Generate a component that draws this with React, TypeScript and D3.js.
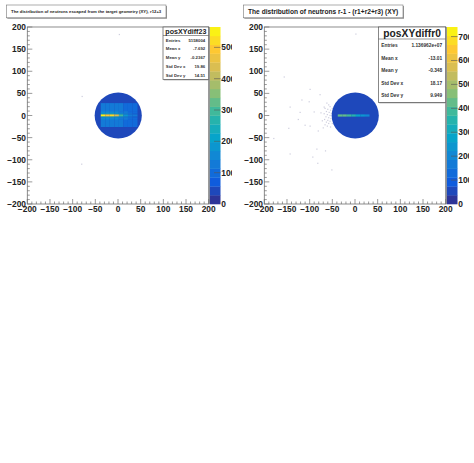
import React, { useEffect, useRef } from 'react';
import * as d3 from 'd3';

// ROOT kBird palette stops
const birdStops = ['#352a87', '#0f5cdd', '#1481d6', '#06a4ca', '#2eb7a4', '#87bf77', '#d1bb59', '#fec832', '#f9fb0e'];
const nBands = 20;

const axisTicks = d3.range(-200, 201, 50);
const minorTicks = d3.range(-200, 201, 10);

// left histogram
const leftTitle = 'The distribution of neutrons escaped from the target geometry (XY), r12+3';
const leftName = 'posXYdiff23';
const leftStats = [
  ['Entries', '5158004'],
  ['Mean x', '-7.692'],
  ['Mean y', '-0.2367'],
  ['Std Dev x', '19.86'],
  ['Std Dev y', '14.51'],
];
const leftPaletteMax = 565;
const leftPaletteTicks = [0, 100, 200, 300, 400, 500];
const leftDiskValue = 40;
const leftXEdges = [-38, -28, -18, -8, 2, 12, 22, 32, 43];
const leftYEdges = [28, 10, 5, 2.5, -2.5, -5, -10, -26];
const leftCells = [
  [125, 130, 130, 125, 120, 112, 105, 100],
  [150, 165, 165, 155, 140, 125, 112, 105],
  [215, 250, 245, 215, 175, 145, 122, 108],
  [540, 500, 520, 430, 290, 190, 140, 115],
  [215, 250, 245, 215, 175, 145, 122, 108],
  [150, 165, 165, 155, 140, 125, 112, 105],
  [125, 130, 130, 125, 120, 112, 105, 100],
];
const leftStrayPoints = [[3, 183], [-79, 43], [-80, -110]];

// right histogram
const rightTitle = 'The distribution of neutrons r-1 - (r1+r2+r3) (XY)';
const rightName = 'posXYdiffr0';
const rightStats = [
  ['Entries', '1.136962e+07'],
  ['Mean x', '-13.01'],
  ['Mean y', '-0.348'],
  ['Std Dev x', '18.17'],
  ['Std Dev y', '9.949'],
];
const rightPaletteMax = 740;
const rightPaletteTicks = [0, 100, 200, 300, 400, 500, 600, 700];
const rightDiskValue = 50;
const rightXEdges = [-38, -28, -18, -8, 2, 12, 22, 32];
const rightYEdges = [2.5, -2.5];
const rightCells = [[430, 430, 400, 340, 290, 240, 190]];
const rightStrayPoints = [
  [-156, 87], [-99, 59], [-77, 47], [-101, 31], [-117, 35], [-143, 19], [-121, 7], [-90, 8],
  [-125, -9], [-146, -29], [-110, -22], [-99, -24], [-81, -35], [-84, -76], [-65, -80],
  [-143, -87], [-93, -94], [-82, -108], [-51, -123], [-179, -52], [2, 184], [-68, 19],
  [-62, 28], [-58, 24], [-55, 20], [-66, 16], [-60, 14], [-54, 12], [-63, 9], [-57, 7],
  [-52, 5], [-68, 4], [-61, 2], [-55, 0], [-64, -3], [-58, -5], [-53, -7], [-67, -9],
  [-60, -11], [-55, -13], [-63, -15], [-58, -18], [-66, -21], [-61, -24], [-54, -26],
  [-72, -12], [-75, 6], [-50, 16], [-50, -18], [-70, -28],
];

const FONT = '"Liberation Sans", Arial, sans-serif';

type PanelProps = {
  left: number;
  right: number;
  titleBox: number[];
  title: string;
  titleSize: number;
  name: string;
  nameSize: number;
  nameWidth: number;
  stats: string[][];
  statsBox: number[];
  statsDivider: number;
  statsRows: number[];
  statsSize: number;
  paletteMax: number;
  paletteTicks: number[];
  diskValue: number;
  xEdges: number[];
  yEdges: number[];
  cells: number[][];
  strayPoints: number[][];
  clipId: string;
};

const Panel = (p: PanelProps) => {
  const ref = useRef<SVGGElement>(null);

  useEffect(() => {
    const g = d3.select(ref.current);
    g.selectAll('*').remove();

    const top = 27;
    const bottom = 204;
    const x = d3.scaleLinear().domain([-200, 200]).range([p.left, p.right]);
    const y = d3.scaleLinear().domain([-200, 200]).range([bottom, top]);
    const ramp = d3.scaleLinear<string>()
      .domain(birdStops.map((_, i) => i / (birdStops.length - 1)))
      .range(birdStops)
      .interpolate(d3.interpolateRgb);
    const band = (v: number) => Math.min(nBands - 1, Math.floor((v / p.paletteMax) * nBands));
    const color = (v: number) => ramp((band(v) + 0.5) / nBands);

    // stray low count bins
    g.selectAll('.stray')
      .data(p.strayPoints)
      .enter()
      .append('rect')
      .attr('x', (d) => x(d[0]) - 0.6)
      .attr('y', (d) => y(d[1]) - 0.6)
      .attr('width', 1.2)
      .attr('height', 1.2)
      .attr('fill', '#5a5a90')
      .attr('opacity', 0.3);

    // disk
    g.append('ellipse')
      .attr('cx', x(0.5))
      .attr('cy', y(0))
      .attr('rx', x(52) - x(0))
      .attr('ry', y(0) - y(52))
      .attr('fill', color(p.diskValue));

    // bins inside the target
    p.cells.forEach((row, r) => {
      row.forEach((v, c) => {
        g.append('rect')
          .attr('x', x(p.xEdges[c]))
          .attr('y', y(p.yEdges[r]))
          .attr('width', x(p.xEdges[c + 1]) - x(p.xEdges[c]))
          .attr('height', y(p.yEdges[r + 1]) - y(p.yEdges[r]))
          .attr('fill', color(v));
      });
    });

    // frame and ticks
    g.append('rect')
      .attr('x', p.left)
      .attr('y', top)
      .attr('width', p.right - p.left)
      .attr('height', bottom - top)
      .attr('fill', 'none')
      .attr('stroke', '#707070')
      .attr('stroke-width', 0.8);

    minorTicks.forEach((t) => {
      const len = axisTicks.includes(t) ? 5 : 2.5;
      g.append('line')
        .attr('x1', x(t)).attr('x2', x(t))
        .attr('y1', bottom).attr('y2', bottom - len)
        .attr('stroke', '#707070').attr('stroke-width', 0.7);
      g.append('line')
        .attr('x1', p.left).attr('x2', p.left + len)
        .attr('y1', y(t)).attr('y2', y(t))
        .attr('stroke', '#707070').attr('stroke-width', 0.7);
    });

    axisTicks.forEach((t) => {
      const label = t < 0 ? `\u2212${-t}` : `${t}`;
      g.append('text')
        .attr('x', x(t))
        .attr('y', 212)
        .attr('text-anchor', 'middle')
        .attr('font-size', 8.4)
        .attr('font-weight', 'bold')
        .attr('font-family', FONT)
        .attr('fill', '#222')
        .text(label);
      g.append('text')
        .attr('x', p.left - 1.3)
        .attr('y', y(t) + 3)
        .attr('text-anchor', 'end')
        .attr('font-size', 8.4)
        .attr('font-weight', 'bold')
        .attr('font-family', FONT)
        .attr('fill', '#222')
        .text(label);
    });

    // palette
    const barLeft = p.right + 0.8;
    const barRight = p.right + 11.8;
    const py = d3.scaleLinear().domain([0, p.paletteMax]).range([bottom, top]);
    d3.range(nBands).forEach((i) => {
      const lo = (i / nBands) * p.paletteMax;
      const hi = ((i + 1) / nBands) * p.paletteMax;
      g.append('rect')
        .attr('x', barLeft)
        .attr('y', py(hi))
        .attr('width', barRight - barLeft)
        .attr('height', py(lo) - py(hi) + 0.3)
        .attr('fill', ramp((i + 0.5) / nBands));
    });
    g.append('line')
      .attr('x1', barLeft).attr('x2', barLeft)
      .attr('y1', top).attr('y2', bottom)
      .attr('stroke', '#8a8a8a').attr('stroke-width', 0.8);

    const clip = g.append('clipPath').attr('id', p.clipId);
    clip.append('rect')
      .attr('x', barRight)
      .attr('y', 20)
      .attr('width', 11.5)
      .attr('height', 195);
    p.paletteTicks.forEach((t) => {
      if (t > 0) {
        g.append('line')
          .attr('x1', barRight - 6.5).attr('x2', barRight)
          .attr('y1', py(t)).attr('y2', py(t))
          .attr('stroke', '#555').attr('stroke-width', 0.6);
      }
      g.append('text')
        .attr('x', barRight + 0.8)
        .attr('y', py(t) + 3)
        .attr('font-size', 8.4)
        .attr('font-weight', 'bold')
        .attr('font-family', FONT)
        .attr('fill', '#222')
        .attr('clip-path', `url(#${p.clipId})`)
        .text(t);
    });

    // title box
    const [tx0, ty0, tx1, ty1] = p.titleBox;
    g.append('rect')
      .attr('x', tx0 + 1).attr('y', ty0 + 1)
      .attr('width', tx1 - tx0).attr('height', ty1 - ty0)
      .attr('fill', '#999');
    g.append('rect')
      .attr('x', tx0).attr('y', ty0)
      .attr('width', tx1 - tx0).attr('height', ty1 - ty0)
      .attr('fill', 'white')
      .attr('stroke', '#777')
      .attr('stroke-width', 0.6);
    g.append('text')
      .attr('x', (tx0 + tx1) / 2)
      .attr('y', (ty0 + ty1) / 2 + p.titleSize * 0.36)
      .attr('text-anchor', 'middle')
      .attr('font-size', p.titleSize)
      .attr('font-weight', 'bold')
      .attr('font-family', FONT)
      .attr('fill', '#222')
      .attr('textLength', tx1 - tx0 - 9.5)
      .attr('lengthAdjust', 'spacingAndGlyphs')
      .text(p.title);

    // stats box
    const [sx0, sy0, sx1, sy1] = p.statsBox;
    g.append('rect')
      .attr('x', sx0 + 0.8).attr('y', sy0 + 0.8)
      .attr('width', sx1 - sx0).attr('height', sy1 - sy0)
      .attr('fill', '#999');
    g.append('rect')
      .attr('x', sx0).attr('y', sy0)
      .attr('width', sx1 - sx0).attr('height', sy1 - sy0)
      .attr('fill', 'white')
      .attr('stroke', '#555')
      .attr('stroke-width', 0.7);
    g.append('line')
      .attr('x1', sx0).attr('x2', sx1)
      .attr('y1', p.statsDivider).attr('y2', p.statsDivider)
      .attr('stroke', '#555')
      .attr('stroke-width', 0.6);
    g.append('text')
      .attr('x', (sx0 + sx1) / 2)
      .attr('y', (sy0 + p.statsDivider) / 2 + p.nameSize * 0.36)
      .attr('text-anchor', 'middle')
      .attr('font-size', p.nameSize)
      .attr('font-weight', 'bold')
      .attr('font-family', FONT)
      .attr('fill', '#222')
      .attr('textLength', p.nameWidth)
      .attr('lengthAdjust', 'spacingAndGlyphs')
      .text(p.name);
    p.stats.forEach((row, i) => {
      g.append('text')
        .attr('x', sx0 + 2.8)
        .attr('y', p.statsRows[i] + p.statsSize * 0.36)
        .attr('font-size', p.statsSize)
        .attr('font-weight', 'bold')
        .attr('font-family', FONT)
        .attr('fill', '#333')
        .text(row[0]);
      g.append('text')
        .attr('x', sx1 - 3.5)
        .attr('y', p.statsRows[i] + p.statsSize * 0.36)
        .attr('text-anchor', 'end')
        .attr('font-size', p.statsSize)
        .attr('font-weight', 'bold')
        .attr('font-family', FONT)
        .attr('fill', '#333')
        .text(row[1]);
    });
  }, []);

  return <g ref={ref} />;
};

const App = () => (
  <svg width={474} height={463} style={{ position: 'absolute', left: 0, top: 0, background: 'white' }}>
    <Panel
      left={27.3}
      right={208.7}
      titleBox={[6.3, 5, 166, 17.8]}
      title={leftTitle}
      titleSize={4.2}
      name={leftName}
      nameSize={7.8}
      nameWidth={41}
      stats={leftStats}
      statsBox={[163, 27, 208.7, 79.5]}
      statsDivider={35.5}
      statsRows={[40, 48.7, 57, 66, 75]}
      statsSize={4.3}
      paletteMax={leftPaletteMax}
      paletteTicks={leftPaletteTicks}
      diskValue={leftDiskValue}
      xEdges={leftXEdges}
      yEdges={leftYEdges}
      cells={leftCells}
      strayPoints={leftStrayPoints}
      clipId="leftPaletteClip"
    />
    <Panel
      left={264.3}
      right={445.7}
      titleBox={[243.3, 5, 403, 17.8]}
      title={rightTitle}
      titleSize={6.6}
      name={rightName}
      nameSize={11.5}
      nameWidth={57.5}
      stats={rightStats}
      statsBox={[378.5, 27, 445.7, 102.5]}
      statsDivider={39}
      statsRows={[45.7, 58, 70, 83.3, 95.7]}
      statsSize={4.8}
      paletteMax={rightPaletteMax}
      paletteTicks={rightPaletteTicks}
      diskValue={rightDiskValue}
      xEdges={rightXEdges}
      yEdges={rightYEdges}
      cells={rightCells}
      strayPoints={rightStrayPoints}
      clipId="rightPaletteClip"
    />
  </svg>
);

export default App;
